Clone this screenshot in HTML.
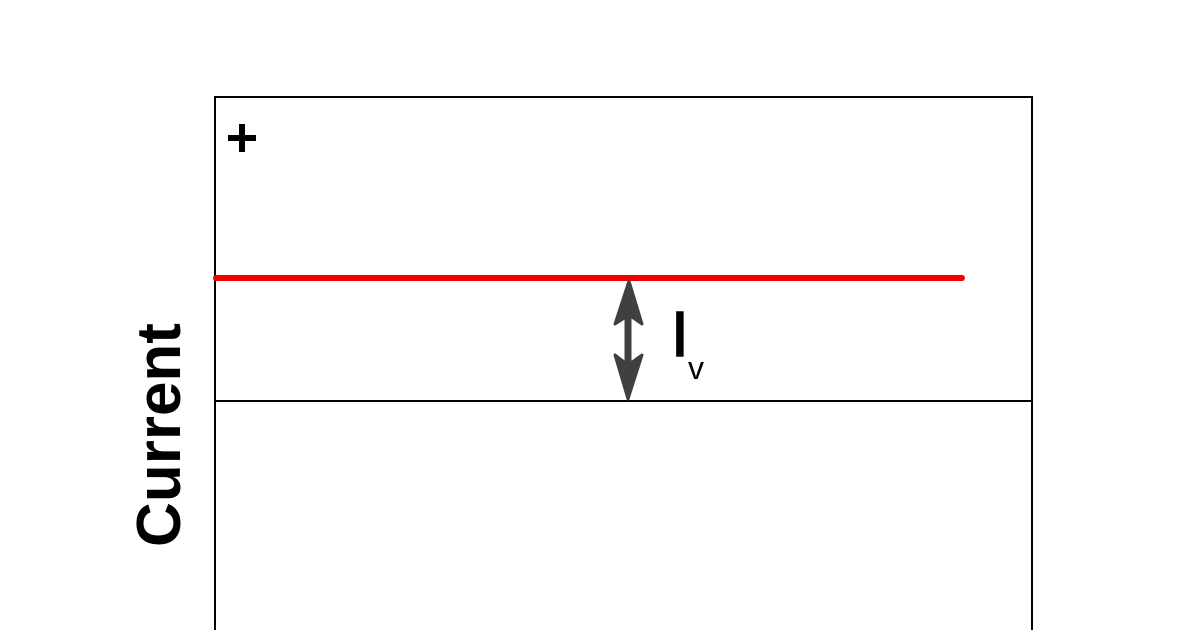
<!DOCTYPE html>
<html><head><style>
html,body{margin:0;padding:0;background:#fff;width:1200px;height:630px;overflow:hidden}
</style></head><body>
<svg width="1200" height="630" xmlns="http://www.w3.org/2000/svg">
<rect width="1200" height="630" fill="#fff"/>
<path d="M215 640 V97 H1032 V640" fill="none" stroke="#000" stroke-width="2"/>
<line x1="215" y1="401" x2="1032" y2="401" stroke="#000" stroke-width="2"/>
<line x1="216" y1="278" x2="962" y2="278" stroke="#f00000" stroke-width="6" stroke-linecap="round"/>
<g fill="#404040" stroke="#404040" stroke-linejoin="round">
<line x1="628" y1="310" x2="628" y2="370" stroke-width="7"/>
<path d="M629 281 L642 324 L629 315 L615 324 Z" stroke-width="3"/>
<path d="M628 399 L642 355 L628 365 L615 355 Z" stroke-width="3"/>
</g>
<rect x="228" y="135" width="28" height="6" fill="#000"/>
<rect x="239" y="124" width="6" height="28" fill="#000"/>
<text x="671" y="356" font-family="Liberation Sans, sans-serif" font-size="64" fill="#000" stroke="#000" stroke-width="1.5">I</text>
<text x="688" y="379" font-family="Liberation Sans, sans-serif" font-size="32" fill="#000">v</text>
<text transform="translate(180,435) rotate(-90)" text-anchor="middle" font-family="Liberation Sans, sans-serif" font-weight="bold" font-size="62" fill="#000">Current</text>
</svg>
</body></html>
